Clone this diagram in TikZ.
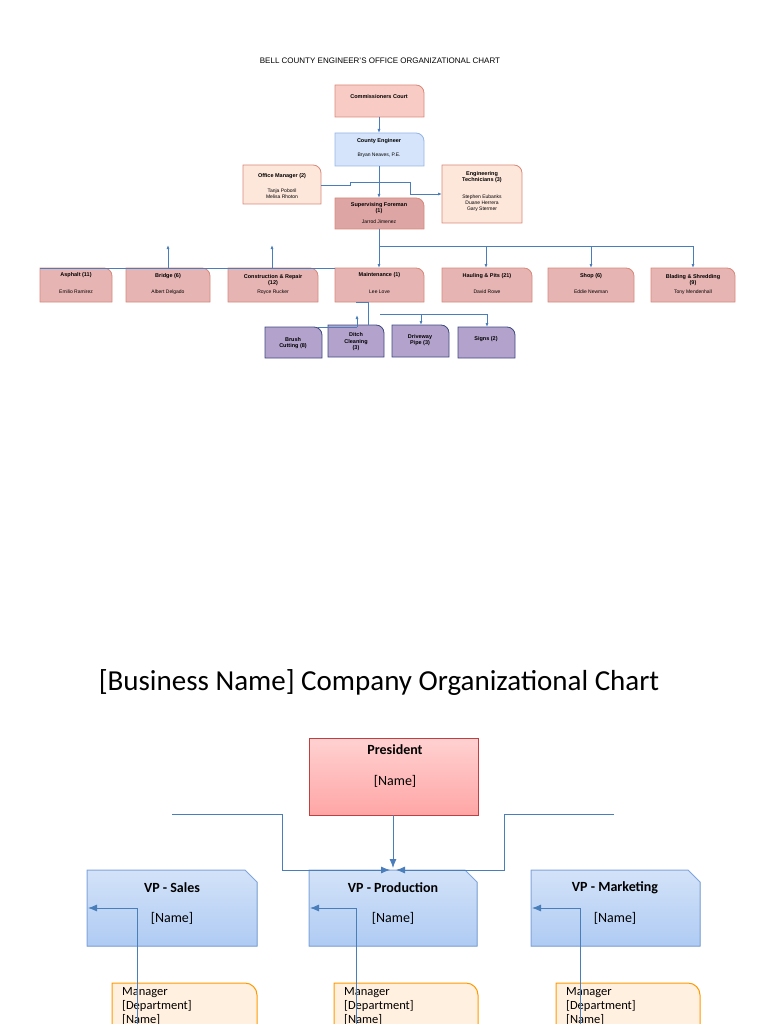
\documentclass[tikz,border=0pt]{standalone}
\usepackage{fontspec}
\setmainfont{Liberation Sans}
\newfontfamily\carl{Carlito}
\usetikzlibrary{arrows.meta}
\definecolor{ln}{HTML}{4A7EBB}
\definecolor{pk}{HTML}{F8CCC4}\definecolor{pkd}{HTML}{D9897A}
\definecolor{bl}{HTML}{D5E4FA}\definecolor{bld}{HTML}{95B5E5}
\definecolor{pe}{HTML}{FDE6DA}\definecolor{rw}{HTML}{E6B4B2}\definecolor{sfc}{HTML}{DDA5A3}
\tikzset{
 con/.style={draw=ln,line width=0.8pt},
 arr/.style={con,-{Latex[length=4pt,width=3pt]}},
 big/.style={con,-{Latex[length=9pt,width=7pt]}},
 t/.style={font=\fontsize{5.5}{6.5}\selectfont\bfseries,align=center,inner sep=0},
 s/.style={font=\fontsize{5}{6}\selectfont,align=center,inner sep=0},
}
\newcommand\rbox[7]{%
 \coordinate (#1) at ({(#2+#4)/2},{(#3+#5)/2});
 \filldraw[fill=#6,draw=#7,line width=0.8pt] (#2,#5) -- (#2,#3) -- ({#4-8},#3) arc[start angle=-90,end angle=0,radius=8] -- (#4,#5) -- cycle;}
\newcommand\cbox[7]{%
 \coordinate (#1) at ({(#2+#4)/2},{(#3+#5)/2});
 \filldraw[top color=#6!55!white,bottom color=#6,draw=#7,line width=1pt] (#2,#5) -- (#2,#3) -- ({#4-12},#3) -- (#4,{#3+12}) -- (#4,#5) -- cycle;}
\begin{document}
\begin{tikzpicture}[x=1pt,y=-1pt]
\useasboundingbox (0,0) rectangle (768,1024);
\clip (0,0) rectangle (768,1024);
\node[font=\fontsize{8}{9}\selectfont] (title) at (380,61) {BELL COUNTY ENGINEER'S OFFICE ORGANIZATIONAL CHART};
\rbox{cc}{335}{85}{424}{117}{pk}{pkd}
\node[t] at (379,97) {Commissioners Court};
\rbox{ce}{335}{133}{424}{166}{bl}{bld}
\node[t] at (379,141) {County Engineer};
\node[s] at (379,155) {Bryan Neaves, P.E.};
\rbox{om}{243}{165}{321}{204}{pe}{pkd}
\node[t] at (282,176) {Office Manager (2)};
\node[s] at (282,194) {Tanja Poboril\\Melisa Rhoton};
\rbox{et}{442}{165}{522}{223}{pe}{pkd}
\node[t] at (482,177) {Engineering\\Technicians (3)};
\node[s] at (482,203) {Stephen Eubanks\\Duane Herrera\\Gary Stermer};
\rbox{sf}{335}{198}{424}{229}{sfc}{pkd}
\node[t] at (379,208) {Supervising Foreman\\(1)};
\node[s] at (379,222) {Jarrod Jimenez};
\foreach \n/\a/\b/\ti/\su/\ty in {as/40/112/Asphalt (11)/Emilio Ramirez/275,
 br/126/210/Bridge (6)/Albert Delgado/276,
 cr/228/318/{Construction \& Repair\\(12)}/Royce Rucker/280,
 ma/335/424/Maintenance (1)/Lee Love/275,
 ha/442/532/Hauling \& Pits (21)/David Rowe/276,
 sh/548/634/Shop (6)/Eddie Newman/276,
 bl/651/735/{Blading \& Shredding\\(9)}/Tony Mendenhall/280}{
 \rbox{\n}{\a}{268}{\b}{302}{rw}{pkd}
 \node[t] at ({(\a+\b)/2},\ty) {\ti};
 \node[s] at ({(\a+\b)/2},292) {\su};
}
\definecolor{pu}{HTML}{B3A2CC}\definecolor{pb}{HTML}{3F4A80}
\rbox{bc}{265}{327}{322}{358}{pu}{pb}
\node[t] at (293,343) {Brush\\Cutting (8)};
\rbox{dc}{328}{325}{384}{357}{pu}{pb}
\node[t] at (356,342) {Ditch\\Cleaning\\(3)};
\rbox{dp}{392}{325}{449}{357}{pu}{pb}
\node[t] at (420,340) {Driveway\\Pipe (3)};
\rbox{sg}{458}{327}{515}{358}{pu}{pb}
\node[t] at (486,339) {Signs (2)};
\draw[arr] (379,117) -- (379,133);
\draw[arr] (379,166) -- (379,198);
\draw[arr] (321,185) -- (350,185) -- (350,182) -- (410,182) -- (410,194) -- (442,194);
\draw[arr] (379,229) -- (379,268);
\draw[con] (379,246) -- (693,246);
\foreach \x in {486,591,693} \draw[arr] (\x,246) -- (\x,268);
\draw[con] (40,268) -- (335,268);
\foreach \x in {168,272} \draw[arr] (\x,268) -- (\x,245);
\draw[con] (356,302) -- (368,302) -- (368,325);
\draw[arr] (357,327) -- (357,315);
\draw[con] (318,327) -- (357,327);
\draw[con] (380,314) -- (487,314);
\draw[arr] (421,314) -- (421,325);
\draw[arr] (487,314) -- (487,327);
\node[font=\carl\fontsize{29}{33}\selectfont] (t2) at (379,683) {[Business Name] Company Organizational Chart};
\filldraw[top color=red!18!white,bottom color=red!35!white,draw=red!50!gray,line width=1pt] (309,738) rectangle (478,815);
\node[font=\carl\bfseries\fontsize{14}{16}\selectfont] at (395,750) {President};
\node[font=\carl\fontsize{14}{16}\selectfont] at (395,781) {[Name]};
\definecolor{vb}{HTML}{AFCBF3}\definecolor{vd}{HTML}{7FA5DC}
\cbox{vs}{87}{870}{257}{946}{vb}{vd}
\cbox{vp}{309}{870}{477}{946}{vb}{vd}
\cbox{vm}{531}{870}{700}{946}{vb}{vd}
\foreach \c/\ti in {172/VP - Sales,393/VP - Production,615/VP - Marketing}{
 \node[font=\carl\bfseries\fontsize{14}{16}\selectfont] at (\c,888) {\ti};
 \node[font=\carl\fontsize{14}{16}\selectfont] at (\c,918) {[Name]};
}
\draw[big] (393,815) -- (393,868);
\draw[big] (172,814) -- (282,814) -- (282,870) -- (390,870);
\draw[big] (614,814) -- (504,814) -- (504,870) -- (396,870);
\foreach \a/\b in {112/257,334/478,556/700}{
 \filldraw[fill=orange!12!white,draw=orange!80!yellow,line width=1pt] (\a,1030) -- (\a,983) -- ({\b-12},983) arc[start angle=-90,end angle=0,radius=12] -- (\b,1030) -- cycle;
 \node[font=\carl\fontsize{12.5}{14}\selectfont,align=left,anchor=north west,inner sep=0] at ({\a+10},987) {Manager\\[0pt][Department]\\[0pt][Name]};
}
\foreach \x/\l in {137/88,356/310,580/532}{
 \draw[big] (\x,1030) -- (\x,908) -- (\l,908);
}
\end{tikzpicture}
\end{document}
